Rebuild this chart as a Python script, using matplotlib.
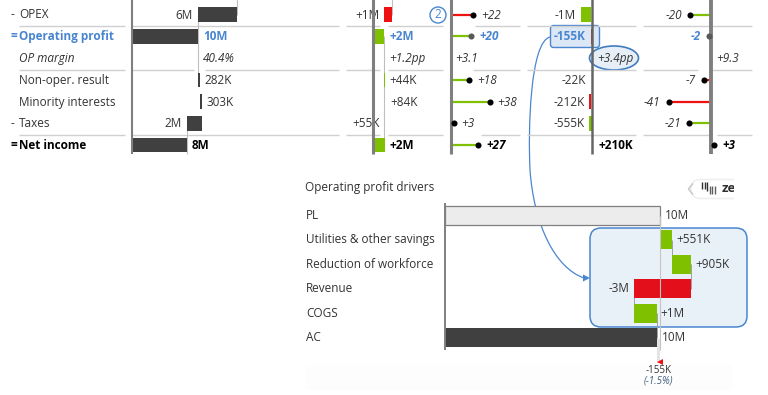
import matplotlib

matplotlib.use("Agg")
import matplotlib.pyplot as plt  # noqa: E402
from matplotlib.patches import Ellipse, FancyBboxPatch, PathPatch, Polygon, Rectangle  # noqa: E402
from matplotlib.path import Path  # noqa: E402

W, H = 768, 395
TOP_H = 165
ROW_Y0, ROW_STEP = 14.5, 21.77
PX_PER_M = 6.6
PX_PER_PCT = 1.03

GREEN = "#7fc000"
RED = "#ee1111"
DARK = "#404040"
BLUE = "#4a86d0"
TXT = "#333333"
AXIS_GRAY = "#7f7f7f"

plt.rcParams["font.family"] = ["Open Sans", "DejaVu Sans"]
plt.rcParams["font.size"] = 8.5

# table rows
rows = ["OPEX", "Operating profit", "OP margin", "Non-oper. result",
        "Minority interests", "Taxes", "Net income"]
prefix = ["-", "=", "", "", "", "-", "="]

# actuals, in millions (None where the row holds a ratio)
ac_starts = [10.0, 0, None, 10.0, 10.282, 8.285, 0]
ac_widths = [5.9, 10.0, None, 0.282, 0.303, 2.3, 8.285]
ac_labels = ["6M", "10M", "40.4%", "282K", "303K", "2M", "8M"]

# delta to plan, in millions
pl_starts = [1.65, 0, None, 1.65, 1.694, 1.723, 0]
pl_widths = [1.2, 1.65, None, 0.044, 0.084, 0.055, 1.723]
pl_colors = [RED, GREEN, None, GREEN, GREEN, RED, GREEN]
pl_labels = ["+1M", "+2M", "+1.2pp", "+44K", "+84K", "+55K", "+2M"]

# delta to plan, percent
plp_values = [22, 20, None, 18, 38, 3, 27]
plp_colors = [RED, GREEN, None, GREEN, GREEN, RED, GREEN]
plp_labels = ["+22", "+20", "+3.1", "+18", "+38", "+3", "+27"]

# delta to previous year, in millions
py_starts = [-1.645, -0.155, None, -0.177, -0.389, -0.389, 0]
py_widths = [1.49, 0.155, None, 0.022, 0.212, 0.555, 0.21]
py_colors = [GREEN, RED, None, RED, RED, GREEN, GREEN]
py_labels = ["-1M", "-155K", "+3.4pp", "-22K", "-212K", "-555K", "+210K"]

# delta to previous year, percent
pyp_values = [-20, -2, None, -7, -41, -21, 3]
pyp_colors = [GREEN, RED, None, RED, RED, GREEN, GREEN]
pyp_labels = ["-20", "-2", "+9.3", "-7", "-41", "-21", "+3"]

# drivers chart
driver_rows = ["PL", "Utilities & other savings", "Reduction of workforce",
               "Revenue", "COGS", "AC"]
driver_plan = 10.0
driver_deltas = [0.551, 0.905, -2.68, 1.069]
driver_actual = 9.845
driver_labels = ["10M", "+551K", "+905K", "-3M", "+1M", "10M"]
driver_diff_label = "-155K"
driver_diff_pct = "(-1.5%)"


def row_color(i):
    return BLUE if i == 1 else TXT if i != 6 else "black"


def row_font(i):
    return {
        "fontweight": "bold" if i in (1, 6) else "normal",
        "fontstyle": "italic" if i == 2 else "normal",
    }


def px_axes(fig, zorder):
    ax = fig.add_axes([0, 0, 1, 1], zorder=zorder)
    ax.set_xlim(0, W)
    ax.set_ylim(H, 0)
    ax.axis("off")
    ax.patch.set_alpha(0)
    return ax


def column_axes(fig, x_zero, scale):
    # full height of the table, x in data units with zero at pixel x_zero
    ax = fig.add_axes([0, 1 - TOP_H / H, 1, TOP_H / H], zorder=3)
    ax.set_xlim(-x_zero / scale, (W - x_zero) / scale)
    ax.set_ylim((TOP_H - ROW_Y0) / ROW_STEP, -ROW_Y0 / ROW_STEP)
    ax.axis("off")
    ax.patch.set_alpha(0)
    return ax


def axis_line(ax, lw=2.0, color=AXIS_GRAY):
    ax.plot([0, 0], [-1, 6.42], color=color, lw=lw, solid_capstyle="butt", zorder=4)


def label_at(ax, x, i, s, dx, **kw):
    font = row_font(i)
    font.update(kw)
    ax.annotate(s, (x, i), xytext=(dx * 0.72, -0.4), textcoords="offset points",
                ha="left" if dx >= 0 else "right", va="center",
                color=row_color(i), **font)


def waterfall(ax, starts, widths, colors, labels, label_side, pad=5):
    for i, (s, w) in enumerate(zip(starts, widths)):
        if s is None:
            continue
        ax.barh(i, w, left=s, height=0.67, color=colors[i], lw=0, zorder=3)
        if label_side[i] == "r":
            label_at(ax, s + w, i, labels[i], pad)
        else:
            label_at(ax, s, i, labels[i], -pad)


def pins(ax, values, colors, labels):
    for i, v in enumerate(values):
        if v is None:
            continue
        ax.plot([0, v], [i, i], color=colors[i], lw=1.6, solid_capstyle="butt", zorder=3)
        dot = "#595959" if i == 1 else "black"
        ax.plot([v], [i], "o", color=dot, ms=4.4, mew=0, zorder=5)
        pad = 8
        label_at(ax, v, i, labels[i], pad if v >= 0 else -pad, fontstyle="italic")


fig = plt.figure(figsize=(W / 100, H / 100), dpi=100, facecolor="white")
bg = px_axes(fig, 1)

# faint panel behind the drivers chart
bg.add_patch(Rectangle((305, 365), 428, 25, fc="#fdfdfd", ec="none"))

# row separators
for y, spans in [
    (25.8, [(19, 125), (132, 339), (346, 380), (388, 443), (475, 520), (527, 636), (643, 752)]),
    (69.7, [(19, 125), (132, 194), (205, 339), (346, 380), (388, 443), (473, 520), (527, 636), (643, 698), (712, 752)]),
    (135.3, [(19, 125), (132, 339), (346, 380), (388, 443), (481, 520), (527, 636), (643, 712), (717, 752)]),
]:
    for a, b in spans:
        bg.plot([a, b], [y, y], color="#d0d0d0", lw=1.0, solid_capstyle="butt")

# row titles
for i, name in enumerate(rows):
    y = ROW_Y0 + 0.5 + i * ROW_STEP
    bg.text(19, y, name, va="center", color=row_color(i), **row_font(i))
    if prefix[i]:
        bg.text(10.5, y, prefix[i], va="center", color=row_color(i), fontweight=row_font(i)["fontweight"])

# callouts behind the table marks
bg.add_patch(FancyBboxPatch((552, 27), 46, 19, boxstyle="round,pad=1.5,rounding_size=3",
                            fc="#dbe7f4", ec=BLUE, lw=1.0))
bg.add_patch(Ellipse((614, 58), 49, 24, fc="#e6eff8", ec="#3f7cc0", lw=1.2))
bg.add_patch(Ellipse((438, 15), 16, 16, fc="white", ec=BLUE, lw=1.0))
bg.text(438, 15, "2", ha="center", va="center", color=BLUE, fontsize=8.5)

# arrow from the callout down to the drivers box
curve = Path([(550, 37), (530, 42), (528, 130), (530, 170),
              (534, 225), (555, 268), (584, 278)],
             [Path.MOVETO] + [Path.CURVE4] * 6)
bg.add_patch(PathPatch(curve, fc="none", ec=BLUE, lw=0.9))
bg.add_patch(Polygon([(583, 274.5), (590, 278), (583, 281.5)], fc=BLUE, ec="none"))

# drivers highlight box
bg.add_patch(FancyBboxPatch((598, 236), 141, 83, boxstyle="round,pad=8,rounding_size=11",
                            fc="#e8f0f8", ec=BLUE, lw=1.1))

# actuals column
ax1 = column_axes(fig, 132, PX_PER_M)
waterfall(ax1, ac_starts, ac_widths, [DARK] * 7, ac_labels, ["l", "r", "r", "r", "r", "l", "r"])
label_at(ax1, ac_widths[1], 2, ac_labels[2], 5)
axis_line(ax1, lw=1.5)
ax1.vlines(ac_starts[0] + ac_widths[0], -1, 0, color="#bfbfbf", lw=0.8)
ax1.vlines(ac_widths[1], 0, 3, color="#bfbfbf", lw=0.8, zorder=2)
ax1.vlines(ac_widths[6], 5, 6.4, color="#bfbfbf", lw=0.8, zorder=2)

# delta PL
ax2 = column_axes(fig, 373.5, PX_PER_M)
waterfall(ax2, pl_starts, pl_widths, pl_colors, pl_labels, ["l", "r", "r", "r", "r", "l", "r"])
label_at(ax2, pl_widths[1], 2, pl_labels[2], 5, fontstyle="italic")
axis_line(ax2, lw=2.2)
ax2.vlines(pl_widths[1], 1, 6, color="#bfbfbf", lw=0.8, zorder=2)
ax2.vlines(pl_starts[0] + pl_widths[0], -1, 0, color="#bfbfbf", lw=0.8)

# delta PL %
ax3 = column_axes(fig, 450.5, PX_PER_PCT)
pins(ax3, plp_values, plp_colors, plp_labels)
label_at(ax3, 0, 2, plp_labels[2], 5, fontstyle="italic")
axis_line(ax3, lw=2.2)

# delta PY
ax4 = column_axes(fig, 592, PX_PER_M)
waterfall(ax4, py_starts, py_widths, py_colors, py_labels, ["l", "l", "r", "l", "l", "l", "r"])
label_at(ax4, 0, 2, py_labels[2], 5, fontstyle="italic")
axis_line(ax4, lw=1.8, color="#666666")

# delta PY %
ax5 = column_axes(fig, 711, PX_PER_PCT)
pins(ax5, pyp_values, pyp_colors, pyp_labels)
label_at(ax5, 0, 2, pyp_labels[2], 5, fontstyle="italic")
axis_line(ax5, lw=2.8)

# drivers chart, x in millions with zero at pixel 445
drv = fig.add_axes([0, 0, 1, 200 / H], zorder=3)
drv_scale = 21.5
drv.set_xlim(-445 / drv_scale, (W - 445) / drv_scale)
drv.set_ylim((395 - 215.5) / 24.4, (195 - 215.5) / 24.4)
drv.axis("off")
drv.patch.set_alpha(0)

delta_mid = (driver_plan + driver_actual) / 2
# pale band carrying the plan/actual gap down to the delta marker
drv.barh(5.55, driver_plan - driver_actual, left=driver_actual, height=1.0, color="#e4e4e4", lw=0, zorder=2)
drv.barh(0, driver_plan, height=0.78, color="#ececec", edgecolor="#808080", lw=0.9, zorder=3)
run = driver_plan
for j, d in enumerate(driver_deltas, start=1):
    color = GREEN if d > 0 else "#e3101c"
    drv.barh(j, d, left=run, height=0.78, color=color, lw=0, zorder=3)
    end = run + d
    if d > 0:
        drv.annotate(driver_labels[j], (end, j), xytext=(3, 0), textcoords="offset points",
                     va="center", color=TXT)
    else:
        drv.annotate(driver_labels[j], (end, j), xytext=(-3, 0), textcoords="offset points",
                     va="center", ha="right", color=TXT)
    drv.vlines(end, j, j + 1, color="#a0a0a0", lw=0.7, zorder=2)
    run = end
drv.vlines(driver_plan, 0, 1, color="#a0a0a0", lw=0.7, zorder=2)
drv.barh(5, driver_actual, height=0.78, color=DARK, lw=0, zorder=3)
drv.annotate(driver_labels[0], (driver_plan, 0), xytext=(3.5, 0), textcoords="offset points",
             va="center", color=TXT)
drv.annotate(driver_labels[5], (driver_actual, 5), xytext=(3.5, 0), textcoords="offset points",
             va="center", color=TXT)
drv.vlines(0, -0.5, 5.5, color=AXIS_GRAY, lw=1.4, zorder=4)
drv.vlines(driver_plan, 0, 5.5, color="#c4c4c4", lw=0.8, zorder=4)
drv.plot([driver_plan], [6.0], marker="<", color="#f01010", ms=5, mew=0, zorder=5)
drv.annotate(driver_diff_label, (delta_mid, 6.0), xytext=(0, -6), textcoords="offset points",
             ha="center", va="center", fontsize=7, color=TXT)
drv.annotate(driver_diff_pct, (delta_mid, 6.0), xytext=(0, -13.5), textcoords="offset points",
             ha="center", va="center", fontsize=7, fontstyle="italic", color="#3f5f80")

fg = px_axes(fig, 4)
fg.text(305, 188, "Operating profit drivers", va="center", color=TXT)
for j, name in enumerate(driver_rows):
    fg.text(306, 215.5 + j * 24.4, name, va="center", color=TXT)

# clipped zebra button
fg.add_patch(FancyBboxPatch((691, 179.5), 52, 19, boxstyle="round,pad=0,rounding_size=9.5",
                            fc="white", ec="#efefef", lw=1.2))
fg.plot([692.5, 688.5, 692.5], [184, 189, 194], color="#c8c8c8", lw=1.1)
for x, y0, y1, c in [(702, 182, 189, "#303030"), (704.5, 182, 189, "#303030"), (707, 182, 191, "#303030"),
                     (709.5, 186, 194, "#606060"), (712, 186, 194, "#606060"), (714.5, 186, 194, "#606060")]:
    fg.plot([x, x], [y0, y1], color=c, lw=1.0, solid_capstyle="butt")
fg.text(722, 188.5, "ze", va="center", color="#303030", fontweight="bold", fontsize=9.5)
fg.add_patch(Rectangle((733.5, 170), 14, 33, fc="white", ec="none", zorder=5))

fig.savefig("out.png", dpi=100)
